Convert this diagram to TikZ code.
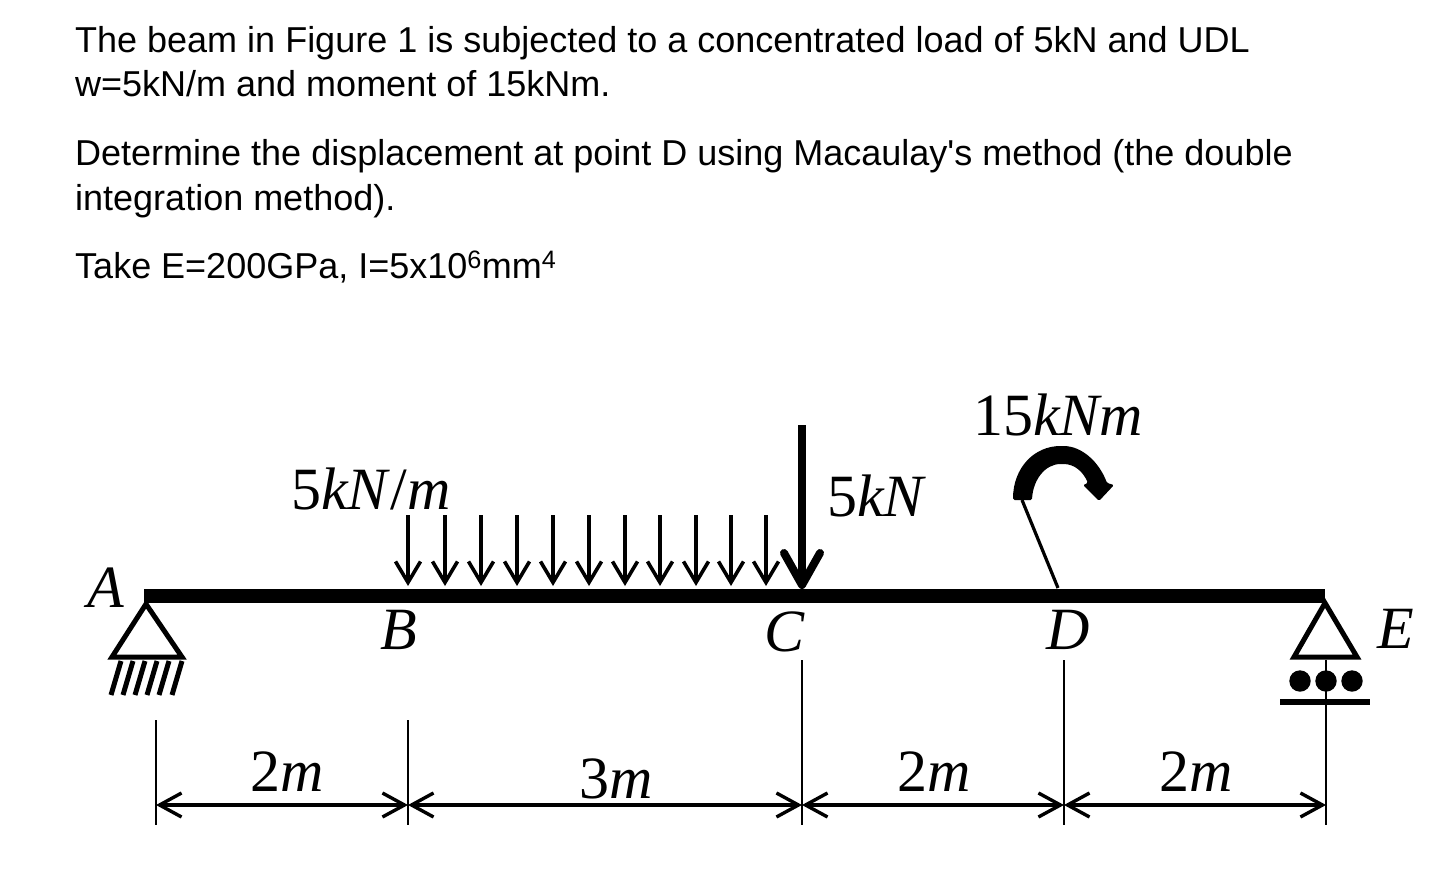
\documentclass[tikz,border=0pt]{standalone}
\usepackage{fontspec}
\setmainfont{Liberation Sans}[Ligatures=TeXOff]
\newfontfamily\mathish{Liberation Serif}
\usetikzlibrary{arrows.meta}
\tikzset{
  body/.style={anchor=base west,inner sep=0pt,font=\fontsize{36}{42}\selectfont},
  lab/.style={inner sep=0pt,font=\mathish\fontsize{60}{66}\selectfont},
  beam/.style={line width=14pt},
  udl/.style={line width=3.4pt,-{Straight Barb[length=21pt,width=25pt,line width=3.6pt]}},
  force/.style={line width=8.5pt,-{Straight Barb[length=32pt,width=36pt,line width=8pt,round]}},
  support/.style={line width=5pt,line join=miter},
  hatchline/.style={line width=5pt},
  witness/.style={line width=2.6pt},
  dim/.style={line width=3.4pt,{Straight Barb[length=22pt,width=24pt,line width=3.4pt]}-{Straight Barb[length=22pt,width=24pt,line width=3.4pt]}},
}
\begin{document}
\begin{tikzpicture}[x=1pt,y=-1pt]
\useasboundingbox (0,0) rectangle (1454,888);
\fill[white] (0,0) rectangle (1454,888);
% text
\node[body] (t1) at (75,53) {The beam in Figure 1 is subjected to a concentrated load of 5kN and UDL};
\node[body] (t2) at (75,97) {w=5kN/m and moment of 15kNm.};
\node[body] (t3) at (75,165) {Determine the displacement at point D using Macaulay's method (the double};
\node[body] (t4) at (75,210) {integration method).};
\node[body] (t5) at (75,278) {Take E=200GPa, I=5x10\textsuperscript{6}mm\textsuperscript{4}};
% beam
\coordinate (beamL) at (144,596);
\coordinate (beamR) at (1325,596);
\draw[beam] (beamL) -- (beamR);
% UDL
\foreach \i/\x in {1/408,2/445,3/481,4/517,5/553,6/589,7/625,8/660,9/696,10/731,11/766}{
  \coordinate (u\i) at (\x,515);
  \coordinate (v\i) at (\x,586);
  \draw[udl] (u\i) -- (v\i);
}
% point load
\coordinate (pTop) at (802,425);
\coordinate (pTip) at (802,589);
\draw[force] (pTop) -- (pTip);
% moment
\coordinate (mBase) at (1022,500);
\coordinate (mFoot) at (1058,588);
\draw[line width=3.2pt] (mBase) -- (mFoot);
\fill[rounded corners=1.5pt] (1013,500) .. controls (1013,468) and (1034,446) .. (1062,446)
  .. controls (1082,446) and (1099,462) .. (1107,483) -- (1114,485) -- (1099,501) -- (1083,485) -- (1088,483)
  .. controls (1083,472) and (1075,464) .. (1062,464)
  .. controls (1045,464) and (1033,480) .. (1032,500) -- cycle;
% support A
\coordinate (a1) at (146,604);
\coordinate (a2) at (112,657);
\coordinate (a3) at (182,657);
\draw[support] (a1) -- (a2) -- (a3) -- cycle;
\foreach \i/\x in {1/111,2/123,3/135,4/147,5/159,6/172}{
  \coordinate (hb\i) at (\x,695);
  \coordinate (ht\i) at (\x+10,661);
  \draw[hatchline] (ht\i) -- (hb\i);
}
% support E
\coordinate (e1) at (1325,603);
\coordinate (e2) at (1294,657);
\coordinate (e3) at (1357,657);
\draw[support] (e1) -- (e2) -- (e3) -- cycle;
\foreach \i/\x in {1/1300,2/1326,3/1352}{
  \fill (\x,681) circle (10.7pt);
}
\coordinate (g1) at (1280,702);
\coordinate (g2) at (1370,702);
\draw[line width=6pt] (g1) -- (g2);
% witness lines
\foreach \n/\x/\t in {a/156/720,b/408/720,c/802/660,d/1064/660,e/1326/660}{
  \coordinate (w\n) at (\x,\t);
  \coordinate (x\n) at (\x,825);
  \coordinate (y\n) at (\x,805);
  \draw[witness] (w\n) -- (x\n);
}
% dimensions
\draw[dim] (ya) -- (yb);
\draw[dim] (yb) -- (yc);
\draw[dim] (yc) -- (yd);
\draw[dim] (yd) -- (ye);
% labels
\node[lab] (A) at (106,588) {\itshape A};
\node[lab] (B) at (399,630) {\itshape B};
\node[lab] (C) at (785,632) {\itshape C};
\node[lab] (D) at (1068,630) {\itshape D};
\node[lab] (E) at (1396,629) {\itshape E};
\node[lab] (w) at (371,489) {5\textit{kN}/\textit{m}};
\node[lab] (P) at (877,496) {5\textit{kN}};
\node[lab] (M) at (1058,415) {15\textit{kNm}};
\node[lab] (d1) at (287,772) {2\textit{m}};
\node[lab] (d2) at (616,779) {3\textit{m}};
\node[lab] (d3) at (934,772) {2\textit{m}};
\node[lab] (d4) at (1196,772) {2\textit{m}};
\end{tikzpicture}
\end{document}
